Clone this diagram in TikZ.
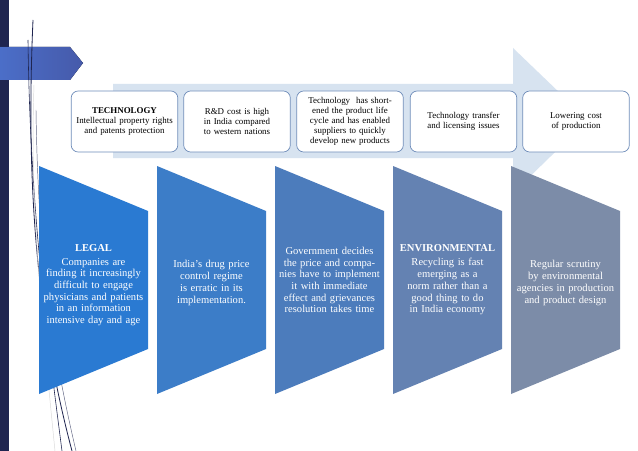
\documentclass[tikz,border=0pt]{standalone}
\usepackage{fontspec}
\setmainfont{Liberation Serif}
\begin{document}
\begin{tikzpicture}[x=0.03cm,y=-0.03cm,
 tb/.style={draw=bx,line width=0.6pt,fill=white,rounded corners=6pt,minimum width=3.2cm,minimum height=1.83cm,align=center,font=\fontsize{7.6}{8.6}\selectfont,text width=2.9cm,inner sep=1pt},
 pt/.style={align=center,text=white,font=\fontsize{9}{10}\selectfont,text width=3.05cm}]
\definecolor{bx}{RGB}{110,140,185}
\definecolor{navy}{RGB}{31,37,80}
\definecolor{pa}{RGB}{215,227,240}
\definecolor{c1}{RGB}{42,122,210}
\definecolor{c2}{RGB}{60,125,200}
\definecolor{c3}{RGB}{76,124,188}
\definecolor{c4}{RGB}{100,130,178}
\definecolor{c5}{RGB}{124,140,168}
\definecolor{ga}{RGB}{70,90,170}
\definecolor{gb}{RGB}{75,110,200}
\useasboundingbox (0,0) rectangle (638,451);
\fill[fill=white] (0,0) rectangle (638,451);
\fill[navy] (0,0) rectangle (9,451);
\fill[left color=gb, right color=ga] (0,47) -- (70,47) -- (83,63) -- (70,80) -- (0,80) -- cycle;
\draw[navy,line width=0.7pt] (33,20) .. controls (25,200) and (40,330) .. (72,451);
\draw[navy,line width=0.5pt] (28,40) .. controls (30,200) and (45,320) .. (62,451);
\draw[navy!70,line width=0.4pt] (36,110) .. controls (38,250) and (50,340) .. (76,451);
\draw[gray!30,line width=0.4pt] (34,85) .. controls (30,200) and (40,300) .. (55,451);
% big arrow
\fill[pa] (113,84) -- (513,84) -- (513,48) -- (588,120) -- (513,193) -- (513,158) -- (113,158) -- cycle;
% top boxes
\node[tb] (t1) at (124.5,121.5) {\textbf{TECHNOLOGY}\\Intellectual property rights and patents protection};
\node[tb] (t2) at (237,121.5) {R\&D cost is high in India compared to western nations};
\node[tb] (t3) at (350,121.5) {Technology \ has shortened the product life cycle and has enabled suppliers to quickly develop new products};
\node[tb] (t4) at (463.5,121.5) {Technology transfer and licensing issues};
\node[tb] (t5) at (576,121.5) {Lowering cost of production};
% pentagons
\foreach \x/\c in {39/c1,157/c2,275/c3,393/c4,511/c5}{
 \fill[\c] (\x,166) -- (\x+109,211) -- (\x+109,349) -- (\x,394) -- cycle;}
\node[pt] (p1) at (93.5,285) {\textbf{LEGAL}\\[2pt]Companies are finding it increasingly difficult to engage physicians and patients in an information intensive day and age};
\node[pt] (p2) at (211.5,283) {India’s drug price control regime is erratic in its implementation.};
\node[pt] (p3) at (329.5,280) {Government decides the price and companies have to implement it with immediate effect and grievances resolution takes time};
\node[pt] (p4) at (447.5,280) {\textbf{ENVIRONMENTAL}\\[2pt]Recycling is fast emerging as a norm rather than a good thing to do in India economy};
\node[pt] (p5) at (565.5,283) {Regular scrutiny by environmental agencies in production and product design};
\end{tikzpicture}
\end{document}
